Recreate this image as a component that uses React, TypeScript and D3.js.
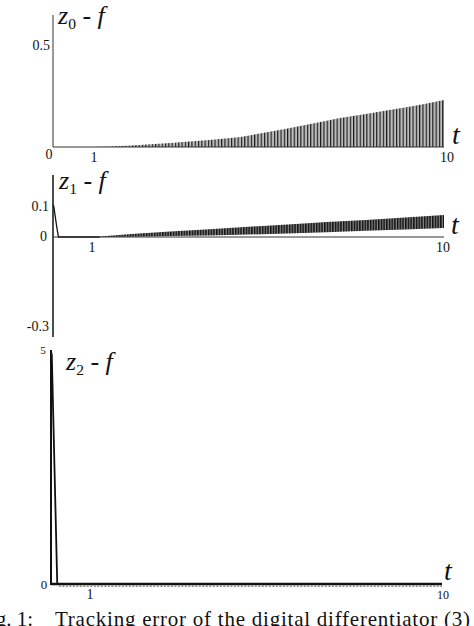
import React from 'react';
import * as d3 from 'd3';

// ---- data ----
const xDomain = [0, 10];
const xTickLabels = [1, 10];

// panel 1: z0 - f  (oscillation band, upper envelope; lower is 0)
const env0T = [1, 1.5, 2, 2.5, 3, 3.5, 4, 4.8, 5.5, 6, 7, 7.3, 8, 8.6, 9, 9.5, 10];
const env0Hi = [0, 0.003, 0.008, 0.013, 0.02, 0.027, 0.035, 0.05, 0.074, 0.092, 0.13, 0.142, 0.163, 0.183, 0.196, 0.213, 0.233];
const y0Ticks = [0, 0.5];

// panel 2: z1 - f
const trans1T = [0, 0.02, 0.05, 0.1, 0.14, 0.3, 1.2];
const trans1V = [0.107, 0.102, 0.075, 0.03, 0, 0, 0];
const env1T = [1.2, 2, 3, 4, 5, 6, 7, 8, 9, 10];
const env1Lo = [0, 0.001, 0.003, 0.005, 0.008, 0.012, 0.016, 0.021, 0.025, 0.03];
const env1Hi = [0.002, 0.01, 0.018, 0.026, 0.034, 0.042, 0.05, 0.057, 0.065, 0.073];
const y1Ticks = [0.1, 0, -0.3];

// panel 3: z2 - f
const spike2T = [0, 0.02, 0.16, 10];
const spike2V = [5, 4.95, 0, 0];
const y2Ticks = [5, 0];

const serif = 'Liberation Serif, Times New Roman, Times, serif';

function Title({ x, y, sub, size }: { x: number; y: number; sub: string; size: number }) {
  return (
    <text x={x} y={y} style={{ fontFamily: serif, fontSize: size }} fill="#111">
      <tspan fontStyle="italic">z</tspan>
      <tspan style={{ fontSize: size * 0.6 }} dy={size * 0.2}>{sub}</tspan>
      <tspan dy={-size * 0.2}>{' - '}</tspan>
      <tspan fontStyle="italic">f</tspan>
    </text>
  );
}

function T({ x, y, size, anchor = 'start', italic = false, children }: any) {
  return (
    <text
      x={x}
      y={y}
      textAnchor={anchor}
      fill="#111"
      style={{ fontFamily: serif, fontSize: size, fontStyle: italic ? 'italic' : 'normal' }}
    >
      {children}
    </text>
  );
}

export default function App() {
  const x1 = d3.scaleLinear().domain(xDomain).range([53, 444]);
  const y1 = d3.scaleLinear().domain([0, 0.5]).range([147, 46]);
  const x2 = d3.scaleLinear().domain(xDomain).range([53, 444]);
  const y2 = d3.scaleLinear().domain([0, 0.1]).range([237, 207]);
  const x3 = d3.scaleLinear().domain(xDomain).range([51, 442]);
  const y3 = d3.scaleLinear().domain([0, 5]).range([584, 352]);

  const area0 = d3
    .area<number>()
    .x((_, i) => x1(env0T[i]))
    .y0(() => y1(0))
    .y1((d) => y1(d))(env0Hi) as string;

  const area1 = d3
    .area<number>()
    .x((_, i) => x2(env1T[i]))
    .y0((_, i) => y2(env1Lo[i]))
    .y1((d) => y2(d))(env1Hi) as string;

  const line1 = d3
    .line<number>()
    .x((_, i) => x2(trans1T[i]))
    .y((d) => y2(d))(trans1V) as string;

  const line3 = d3
    .line<number>()
    .x((_, i) => x3(spike2T[i]))
    .y((d) => y3(d))(spike2V) as string;

  const tf = 14;

  return (
    <svg
      width={474}
      height={626}
      style={{ position: 'absolute', left: 0, top: 0, background: '#fff' }}
    >
      <defs>
        <pattern id="hatch0" patternUnits="userSpaceOnUse" width={3.3} height={10}>
          <rect x={0} y={0} width={1.4} height={10} fill="#1a1a1a" />
          <rect x={1.4} y={0} width={1.9} height={10} fill="#bbb" />
        </pattern>
        <pattern id="hatch1" patternUnits="userSpaceOnUse" width={2.7} height={10}>
          <rect x={0} y={0} width={1.7} height={10} fill="#111" />
          <rect x={1.7} y={0} width={1} height={10} fill="#888" />
        </pattern>
      </defs>
      <rect x={0} y={0} width={474} height={626} fill="#fff" />

      {/* ---------- panel 1 ---------- */}
      <path d={area0} fill="url(#hatch0)" />
      <line x1={x1(0)} x2={x1(0)} y1={15} y2={y1(0)} stroke="#333" strokeWidth={1} />
      <line x1={x1(0)} x2={x1(10)} y1={y1(0)} y2={y1(0)} stroke="#333" strokeWidth={1} />
      {y0Ticks.map((v) =>
        v === 0 ? (
          <T key={v} x={x1(0) - 4} y={y1(0) + 12} size={tf} anchor="middle">0</T>
        ) : (
          <T key={v} x={x1(0) - 3} y={y1(v) + 4} size={tf} anchor="end">{v}</T>
        )
      )}
      {xTickLabels.map((v) => (
        <T key={v} x={x1(v) + (v === 1 ? 2 : 3)} y={y1(0) + 15} size={tf} anchor="middle">{v}</T>
      ))}
      <T x={452} y={144} size={28} italic>t</T>
      <Title x={58} y={24} sub="0" size={26} />

      {/* ---------- panel 2 ---------- */}
      <path d={area1} fill="url(#hatch1)" />
      <path d={line1} fill="none" stroke="#111" strokeWidth={1.3} />
      <line x1={x2(0)} x2={x2(0)} y1={175} y2={y2(-0.333)} stroke="#111" strokeWidth={1.5} />
      <line x1={x2(0)} x2={x2(10)} y1={y2(0)} y2={y2(0)} stroke="#333" strokeWidth={1.2} />
      {y1Ticks.map((v) => (
        <T key={v} x={v === 0 ? x2(0) - 6 : x2(0) - 4} y={y2(v) + 4} size={tf} anchor="end">{v}</T>
      ))}
      {xTickLabels.map((v) => (
        <T key={v} x={x2(v) + (v === 1 ? 0 : -1)} y={y2(0) + 15} size={tf} anchor="middle">{v}</T>
      ))}
      <T x={451} y={234} size={28} italic>t</T>
      <Title x={59} y={189} sub="1" size={26} />

      {/* ---------- panel 3 ---------- */}
      <line x1={x3(0)} x2={x3(0)} y1={350} y2={y3(0) + 1} stroke="#111" strokeWidth={2} />
      <line x1={x3(0)} x2={x3(10)} y1={y3(0)} y2={y3(0)} stroke="#111" strokeWidth={2.6} />
      <line x1={x3(0.2)} x2={x3(10)} y1={y3(0) + 2.2} y2={y3(0) + 2.2} stroke="#555" strokeWidth={1} strokeDasharray="2 1.5" />
      <path d={line3} fill="none" stroke="#111" strokeWidth={1.8} />
      {y2Ticks.map((v) => (
        <T key={v} x={v === 5 ? x3(0) - 8 : x3(0) - 7} y={y3(v) + (v === 5 ? 2 : 5)} size={v === 5 ? 11 : 13} anchor="middle">{v}</T>
      ))}
      {xTickLabels.map((v) => (
        <T key={v} x={x3(v) + (v === 1 ? 0 : 1)} y={y3(0) + 15} size={v === 1 ? 14 : 12} anchor="middle">{v}</T>
      ))}
      <T x={444} y={580} size={28} italic>t</T>
      <Title x={66} y={370} sub="2" size={26} />

      {/* ---------- caption ---------- */}
      <T x={33} y={626} size={21} anchor="end">Fig. 1:</T>
      <text
        x={55}
        y={626}
        fill="#111"
        textLength={415}
        lengthAdjust="spacing"
        style={{ fontFamily: serif, fontSize: 21 }}
      >
        Tracking error of the digital differentiator (3)
      </text>
    </svg>
  );
}
